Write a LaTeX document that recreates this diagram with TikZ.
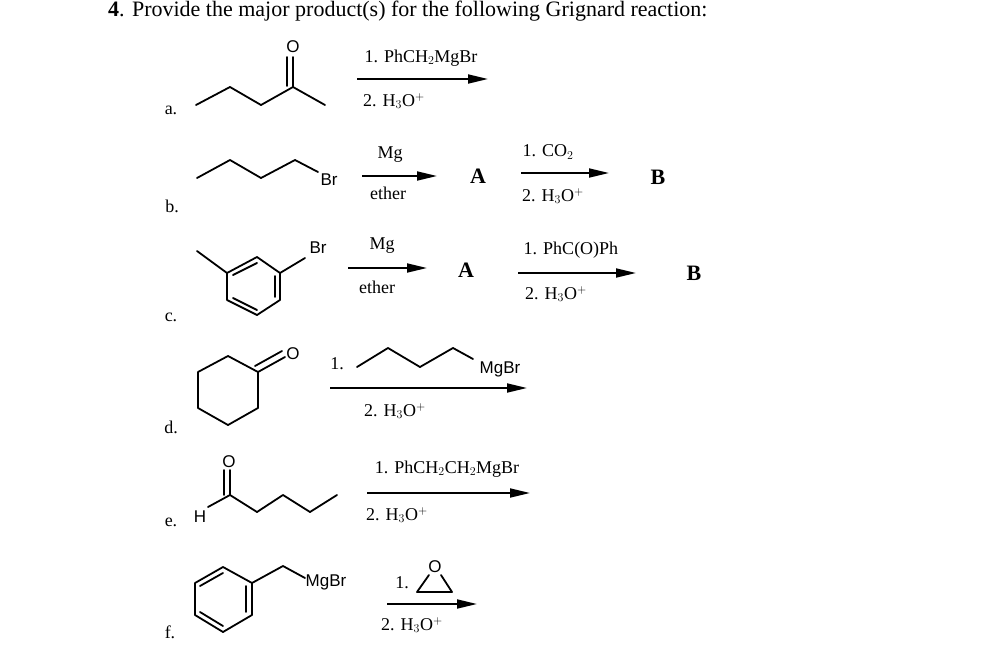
\documentclass[tikz,border=0pt]{standalone}
\usepackage{fontspec}
\setmainfont{Liberation Serif}
\newfontfamily\sansf{Liberation Sans}
\usetikzlibrary{arrows.meta}
\begin{document}
\begin{tikzpicture}[x=1pt,y=-1pt,
  bond/.style={line width=1.8pt,line cap=round,line join=round},
  rxn/.style={line width=1.8pt,-{Triangle[length=20pt,width=9pt]}},
  t/.style={font=\fontsize{18}{20}\selectfont,inner sep=0pt},
  s/.style={font=\sansf\fontsize{17}{19}\selectfont,inner sep=0pt},
  lab/.style={font=\fontsize{18}{20}\selectfont,inner sep=0pt},
  big/.style={font=\bfseries\fontsize{22}{24}\selectfont,inner sep=0pt}]
\useasboundingbox (0,0) rectangle (994,656);
\node[anchor=base west,font=\fontsize{22}{24}\selectfont,inner sep=0pt] (title) at (108,16) {\textbf{4}. Provide the major product(s) for the following Grignard reaction:};
% labels
\node[lab] (la) at (171,110) {a.};
\node[lab] (lb) at (172,206) {b.};
\node[lab] (lc) at (171,317) {c.};
\node[lab] (ld) at (171,427) {d.};
\node[lab] (le) at (171,522) {e.};
\node[lab] (lf) at (170,632) {f.};
% a
\draw[bond] (196,105)--(230,87)--(261,105)--(293,87)--(325,105);
\draw[bond] (293,87)--(293,57) (287,86)--(287,57);
\node[s] (Oa) at (293,47) {O};
\coordinate (a1) at (357,79); \coordinate (a2) at (488,79);
\draw[rxn] (a1)--(a2);
\node[t] (ra1) at (421,58) {1. PhCH$_2$MgBr};
\node[t] (ra2) at (394,101) {2. H$_3$O$^+$};
% b
\draw[bond] (197,178)--(230,160)--(261,178)--(295,160)--(318,172);
\node[s] (Brb) at (329,180) {Br};
\coordinate (b1) at (362,176); \coordinate (b2) at (437,176);
\draw[rxn] (b1)--(b2);
\node[t] (mgb) at (390,155) {Mg};
\node[t] (etb) at (388,193) {ether};
\node[big] (Ab) at (478,176) {A};
\coordinate (b3) at (521,173); \coordinate (b4) at (609,173);
\draw[rxn] (b3)--(b4);
\node[t] (rb1) at (548,152) {1. CO$_2$};
\node[t] (rb2) at (553,196) {2. H$_3$O$^+$};
\node[big] (Bb) at (658,177) {B};
% c
\draw[bond] (227,273)--(257,257)--(280,273)--(280,300)--(257,315)--(227,300)--cycle;
\draw[bond] (233,275)--(257,263) (275,276)--(275,297) (233,298)--(257,310);
\draw[bond] (227,273)--(197,251);
\draw[bond] (280,273)--(305,258);
\node[s] (Brc) at (318,248) {Br};
\coordinate (c1) at (348,268); \coordinate (c2) at (427,268);
\draw[rxn] (c1)--(c2);
\node[t] (mgc) at (382,246) {Mg};
\node[t] (etc) at (377,287) {ether};
\node[big] (Ac) at (466,270) {A};
\coordinate (c3) at (518,273); \coordinate (c4) at (636,273);
\draw[rxn] (c3)--(c4);
\node[t] (rc1) at (571,250) {1. PhC(O)Ph};
\node[t] (rc2) at (556,294) {2. H$_3$O$^+$};
\node[big] (Bc) at (694,273) {B};
% d
\draw[bond] (228,356)--(258,372)--(258,408)--(228,425)--(198,408)--(198,372)--cycle;
\draw[bond] (258,372)--(285,357) (255,366)--(282,351);
\node[s] (Od) at (293,354) {O};
\coordinate (d1) at (330,388); \coordinate (d2) at (527,388);
\draw[rxn] (d1)--(d2);
\node[t] (rd1) at (337,364) {1.};
\draw[bond] (357,367)--(388,348)--(420,367)--(453,348)--(473,359);
\node[s] (MgBrd) at (500,369) {MgBr};
\node[t] (rd2) at (395,411) {2. H$_3$O$^+$};
% e
\node[s] (He) at (200,517) {H};
\draw[bond] (208,507)--(230,495)--(257,512)--(283,495)--(310,512)--(337,495);
\draw[bond] (230,495)--(230,470) (224,495)--(224,470);
\node[s] (Oe) at (229,462) {O};
\coordinate (e1) at (367,493); \coordinate (e2) at (530,493);
\draw[rxn] (e1)--(e2);
\node[t] (re1) at (447,469) {1. PhCH$_2$CH$_2$MgBr};
\node[t] (re2) at (397,515) {2. H$_3$O$^+$};
% f
\draw[bond] (223,567)--(252,583)--(252,615)--(223,632)--(195,615)--(195,583)--cycle;
\draw[bond] (200,586)--(223,573) (246,586)--(246,612) (200,612)--(223,626);
\draw[bond] (252,583)--(283,566)--(305,578);
\node[s] (MgBrf) at (326,582) {MgBr};
\coordinate (f1) at (387,604); \coordinate (f2) at (477,604);
\draw[rxn] (f1)--(f2);
\node[t] (rf1) at (402,583) {1.};
\node[s] (Of) at (435,567) {O};
\draw[bond] (429,575)--(417,592)--(452,592)--(441,575);
\node[t] (rf2) at (412,625) {2. H$_3$O$^+$};
\end{tikzpicture}
\end{document}
